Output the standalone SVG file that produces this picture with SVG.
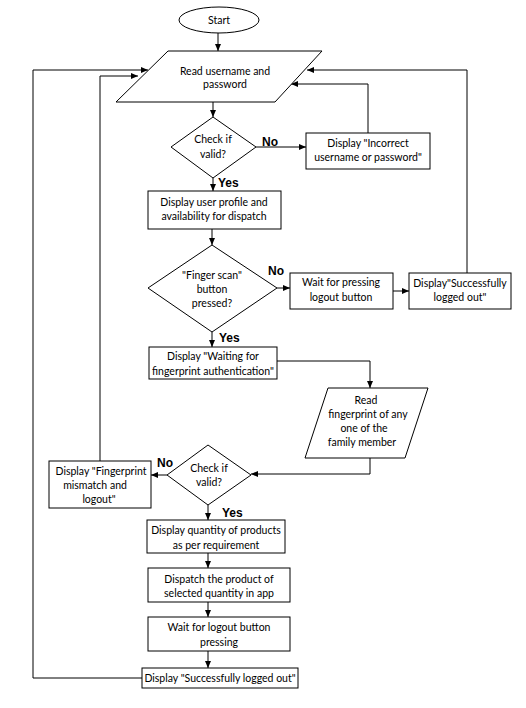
<svg xmlns="http://www.w3.org/2000/svg" width="526" height="708" viewBox="0 0 526 708">
<defs>
<marker id="ah" markerWidth="8" markerHeight="6" refX="7" refY="3" orient="auto" markerUnits="userSpaceOnUse">
<path d="M0,0 L7,3 L0,6 z" fill="#000"/>
</marker>
<style>
.s{fill:#fff;stroke:#000;stroke-width:1}
.t{font-family:Lato,"Liberation Sans",sans-serif;font-size:10.5px;fill:#000;text-anchor:middle}
.l{font-family:"Liberation Sans",Arial,sans-serif;font-size:12px;font-weight:bold;fill:#000}
.c{fill:none;stroke:#000;stroke-width:1;marker-end:url(#ah)}
.c0{fill:none;stroke:#000;stroke-width:1}
</style>
</defs>
<rect width="526" height="708" fill="#fff"/>
<g id="connectors">
<path class="c" d="M218,33 V51"/>
<path class="c" d="M213,102 V117"/>
<path class="c" d="M256,147 H306"/>
<path class="c" d="M368,133 V84 H291"/>
<path class="c" d="M213,178 V191"/>
<path class="c" d="M212,229 V245"/>
<path class="c" d="M277,288 H290"/>
<path class="c" d="M393,291 H409"/>
<path class="c" d="M467,273 V70 H307"/>
<path class="c" d="M212,332 V347"/>
<path class="c" d="M277,361 H370 V388"/>
<path class="c" d="M370,458 V474 H251"/>
<path class="c" d="M167,475 H151"/>
<path class="c" d="M100,461 V76 H138"/>
<path class="c" d="M208,505 V520"/>
<path class="c" d="M208,553 V568"/>
<path class="c" d="M208,602 V617"/>
<path class="c" d="M208,651 V668"/>
<path class="c" d="M142,678 H33 V70 H148"/>
</g>
<g id="labels">
<text class="l" x="262" y="146">No</text>
<text class="l" x="218" y="187">Yes</text>
<text class="l" x="268" y="275">No</text>
<text class="l" x="219" y="342">Yes</text>
<text class="l" x="157" y="467">No</text>
<text class="l" x="222" y="517">Yes</text>
</g>
<g id="start">
<ellipse class="s" cx="219" cy="20" rx="40" ry="13"/>
<text class="t" x="219" y="24">Start</text>
</g>
<g id="read-credentials">
<polygon class="s" points="168,51 322,51 275,102 116,102"/>
<text class="t" x="225" y="75">Read username  and</text>
<text class="t" x="225" y="88">password</text>
</g>
<g id="check-valid-1">
<polygon class="s" points="213,117 256,147 213,178 171,147"/>
<text class="t" x="213" y="143">Check if</text>
<text class="t" x="213" y="158">valid?</text>
</g>
<g id="incorrect">
<rect class="s" x="306" y="133" width="124" height="36"/>
<text class="t" x="368" y="147">Display  "Incorrect</text>
<text class="t" x="368" y="161">username or password"</text>
</g>
<g id="profile">
<rect class="s" x="148" y="191" width="133" height="38"/>
<text class="t" x="214" y="206">Display user profile and</text>
<text class="t" x="214" y="220">availability for dispatch</text>
</g>
<g id="finger-scan">
<polygon class="s" points="212,245 277,288 212,332 148,288"/>
<text class="t" x="212" y="279">"Finger scan"</text>
<text class="t" x="212" y="293">button</text>
<text class="t" x="212" y="307">pressed?</text>
</g>
<g id="wait-logout">
<rect class="s" x="290" y="273" width="103" height="36"/>
<text class="t" x="341" y="286">Wait for pressing</text>
<text class="t" x="341" y="301">logout button</text>
</g>
<g id="logged-out-1">
<rect class="s" x="409" y="273" width="102" height="36"/>
<text class="t" x="460" y="287">Display"Successfully</text>
<text class="t" x="460" y="301">logged out"</text>
</g>
<g id="waiting">
<rect class="s" x="149" y="347" width="128" height="32"/>
<text class="t" x="213" y="360">Display  "Waiting for</text>
<text class="t" x="213" y="375">fingerprint authentication"</text>
</g>
<g id="read-fingerprint">
<polygon class="s" points="328,388 428,388 405,458 305,458"/>
<text class="t" x="366" y="404">Read</text>
<text class="t" x="368" y="418">fingerprint  of any</text>
<text class="t" x="364" y="432">one of the</text>
<text class="t" x="362" y="446">family member</text>
</g>
<g id="check-valid-2">
<polygon class="s" points="208,445 251,475 208,505 167,475"/>
<text class="t" x="209" y="472">Check if</text>
<text class="t" x="209" y="486">valid?</text>
</g>
<g id="mismatch">
<rect class="s" x="49" y="461" width="102" height="47"/>
<text class="t" x="101" y="475">Display "Fingerprint</text>
<text class="t" x="95" y="489">mismatch and</text>
<text class="t" x="99" y="503">logout"</text>
</g>
<g id="quantity">
<rect class="s" x="147" y="520" width="138" height="33"/>
<text class="t" x="216" y="534">Display quantity of products</text>
<text class="t" x="216" y="549">as per requirement</text>
</g>
<g id="dispatch">
<rect class="s" x="148" y="568" width="142" height="34"/>
<text class="t" x="219" y="583">Dispatch the product of</text>
<text class="t" x="219" y="597">selected quantity in app</text>
</g>
<g id="wait-logout-2">
<rect class="s" x="148" y="617" width="142" height="34"/>
<text class="t" x="219" y="631">Wait for logout button</text>
<text class="t" x="219" y="646">pressing</text>
</g>
<g id="logged-out-2">
<rect class="s" x="142" y="668" width="156" height="20"/>
<text class="t" x="220" y="682">Display "Successfully logged out"</text>
</g>
</svg>
